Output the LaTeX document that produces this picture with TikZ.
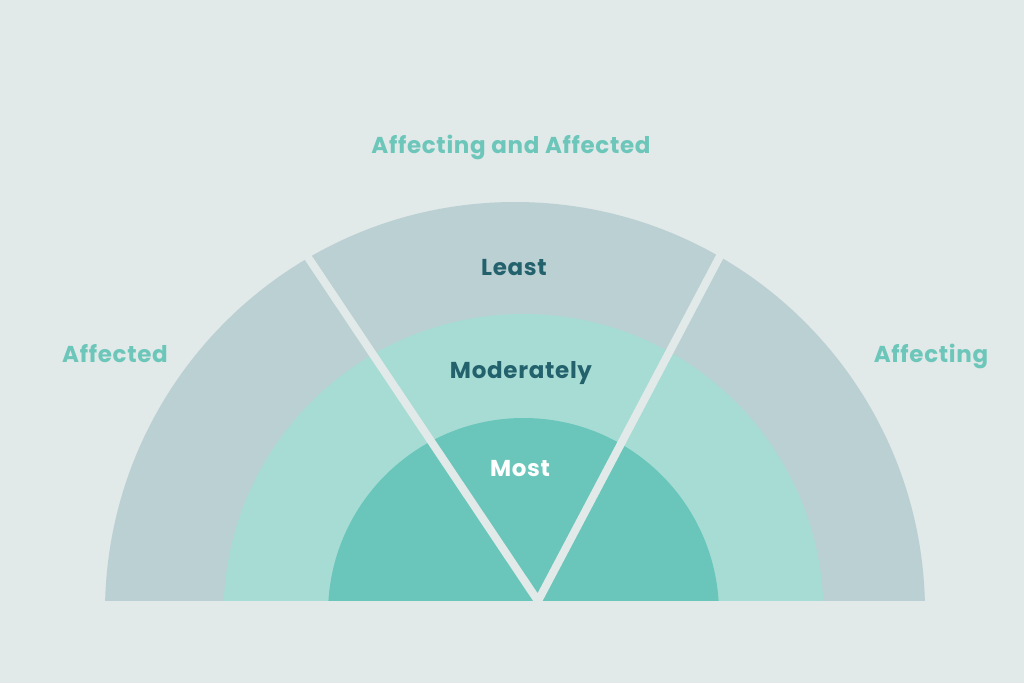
\documentclass[tikz,border=0pt]{standalone}
\usepackage{fontspec}
\setmainfont{Poppins}[LetterSpace=3]
\definecolor{bgc}{HTML}{E1E9E9}
\definecolor{outerc}{HTML}{BBD0D3}
\definecolor{midc}{HTML}{A7DCD5}
\definecolor{innerc}{HTML}{6AC6BA}
\definecolor{darkt}{HTML}{23626C}
\definecolor{lightt}{HTML}{6CC6B9}
\tikzset{
  lbl/.style={font=\fontsize{23}{26}\selectfont\bfseries, inner sep=0pt, anchor=base},
  sidelbl/.style={lbl, text=lightt},
  ringlbl/.style={lbl, text=darkt},
  gapline/.style={draw=bgc, line width=8pt}
}
\begin{document}
\begin{tikzpicture}[x=1pt,y=-1pt]
  \fill[bgc] (0,0) rectangle (1024,683);
  \useasboundingbox (0,0) rectangle (1024,683);
  \begin{scope}
    \clip (0,0) rectangle (1024,600);
    \fill[outerc] (515,612) circle[radius=410];
    \fill[midc] (523.5,614) circle[radius=300];
    \fill[innerc] (523.5,613.5) circle[radius=195.5];
  \end{scope}
  \coordinate (tip) at (538,601);
  \coordinate (lend) at (283,220);
  \coordinate (rend) at (739,220);
  \draw[gapline] (lend) -- (tip) -- (rend);
  \node[sidelbl] (top) at (511,153.5) {Affecting and Affected};
  \node[sidelbl] (left) at (115,362) {Affected};
  \node[sidelbl] (right) at (931,362) {Affecting};
  \node[ringlbl] (least) at (514,275) {Least};
  \node[ringlbl] (moder) at (521,378) {Moderately};
  \node[lbl, text=white] (most) at (520,476) {Most};
\end{tikzpicture}
\end{document}
